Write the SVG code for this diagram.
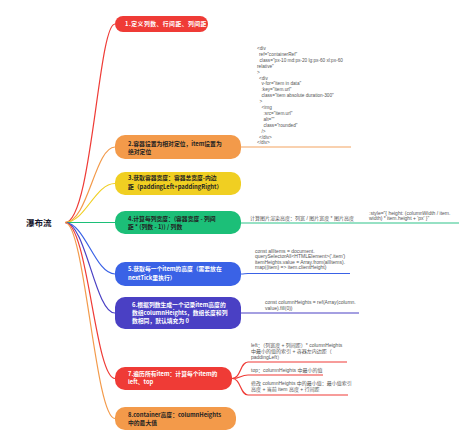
<svg xmlns="http://www.w3.org/2000/svg" width="474" height="447" viewBox="0 0 474 447">
<style>
.n{font-family:"Noto Sans CJK SC","Liberation Sans",sans-serif;font-size:5.8px;font-weight:bold}
.w{fill:#ffffff}
.d{fill:#222222}
.c{fill:none;stroke-width:1.2}
.u{fill:none;stroke-width:1.2}
.code{font-family:"Liberation Sans","Noto Sans CJK SC",sans-serif;font-size:4.7px;fill:#555555}
.lf{font-family:"Liberation Sans","Noto Sans CJK SC",sans-serif;font-size:5px;fill:#555555}
</style>
<rect width="474" height="447" fill="#ffffff"/>
<g id="connectors">
<path class="c" stroke="#ef3b36" d="M65,222.5 C92,222.5 98,24 115,24"/>
<path class="c" stroke="#f39a4a" d="M65,222.5 C88,222.5 95,147 115,147"/>
<path class="c" stroke="#f0cf22" d="M65,222.5 C85,222.5 95,183.5 115,183.5"/>
<path class="c" stroke="#1cbf78" d="M65,222.5 L115,222.5"/>
<path class="c" stroke="#3a62e6" d="M65,222.5 C85,222.5 95,274 115,274"/>
<path class="c" stroke="#4a40c4" d="M65,222.5 C86,222.5 95,313 115,313"/>
<path class="c" stroke="#ef3b36" d="M65,222.5 C88,222.5 95,378.5 115,378.5"/>
<path class="c" stroke="#f39a4a" d="M65,222.5 C85,222.5 95,418.5 115,418.5"/>
<path class="u" stroke="#f3a460" d="M241,147 L351,147"/>
<path class="u" stroke="#2ec48a" d="M241,223 L459,223"/>
<path class="u" stroke="#3a62e6" d="M241,274 C245,274 244,273.5 248,273.5 L350,273.5"/>
<path class="u" stroke="#4a40c4" d="M241,313 L359,313"/>
<path class="u" stroke="#ef3b36" d="M232,378.5 C241,378.5 240,362 248,362 L347,362"/>
<path class="u" stroke="#ef3b36" d="M232,378.5 C241,378.5 240,375 248,375 L323,375"/>
<path class="u" stroke="#ef3b36" d="M232,378.5 C241,378.5 240,395 248,395 L348,395"/>
</g>
<g id="root">
<text x="26" y="225.5" font-family="Noto Sans CJK SC, sans-serif" font-size="8.5" font-weight="bold" fill="#1a1a2e">瀑布流</text>
</g>
<g id="node1">
<rect x="115" y="16" width="93" height="16" rx="8" fill="#ef3b36"/>
<text class="n w" x="125" y="26" letter-spacing="0.5">1.定义列数、行间距、列间距</text>
</g>
<g id="node2">
<rect x="115" y="135" width="126" height="24" rx="10" fill="#f39a4a"/>
<text class="n d" x="128" y="146">2.容器设置为相对定位，item设置为</text>
<text class="n d" x="128" y="154">绝对定位</text>
</g>
<g id="node3">
<rect x="115" y="172" width="126" height="23" rx="10" fill="#f0cf22"/>
<text class="n d" x="128" y="180">3.获取容器宽度：容器总宽度-内边</text>
<text class="n d" x="128" y="189">距（paddingLeft+paddingRight）</text>
</g>
<g id="node4">
<rect x="115" y="211" width="126" height="23" rx="10" fill="#1cbf78"/>
<text class="n d" x="128" y="221">4.计算每列宽度：(容器宽度 - 列间</text>
<text class="n d" x="128" y="229">距 * (列数 - 1)) / 列数</text>
</g>
<g id="node5">
<rect x="115" y="262" width="126" height="24" rx="10" fill="#3a62e6"/>
<text class="n w" x="128" y="271">5.获取每一个item的高度（需要放在</text>
<text class="n w" x="128" y="280">nextTick里执行）</text>
</g>
<g id="node6">
<rect x="115" y="297" width="126" height="32" rx="10" fill="#4a40c4"/>
<text class="n w" x="132" y="307">6.根据列数生成一个记录item高度的</text>
<text class="n w" x="132" y="315">数组columnHeights，数组长度和列</text>
<text class="n w" x="132" y="323">数相同，默认填充为 0</text>
</g>
<g id="node7">
<rect x="115" y="367" width="117" height="23" rx="10" fill="#ef3b36"/>
<text class="n w" x="128" y="376">7.遍历所有item：计算每个item的</text>
<text class="n w" x="128" y="384">left、top</text>
</g>
<g id="node8">
<rect x="115" y="407" width="121" height="23" rx="10" fill="#f39a4a"/>
<text class="n d" x="128" y="417">8.container高度：columnHeights</text>
<text class="n d" x="128" y="425">中的最大值</text>
</g>
<g id="leaf2">
<text class="code" x="257" y="50">&lt;div</text>
<text class="code" x="259" y="55.9">ref="containerRef"</text>
<text class="code" x="259.5" y="61.8">class="px-10 md:px-20 lg:px-60 xl:px-60</text>
<text class="code" x="257" y="67.7">relative"</text>
<text class="code" x="257" y="73.6">&gt;</text>
<text class="code" x="259" y="79.5">&lt;div</text>
<text class="code" x="261.5" y="85.4">v-for="item in data"</text>
<text class="code" x="261.5" y="91.3">:key="item.url"</text>
<text class="code" x="261.5" y="97.2">class="item absolute duration-300"</text>
<text class="code" x="259.5" y="103.1">&gt;</text>
<text class="code" x="261.5" y="109">&lt;img</text>
<text class="code" x="263.5" y="114.9">:src="item.url"</text>
<text class="code" x="263.5" y="120.8">alt=""</text>
<text class="code" x="263.5" y="126.7">class="rounded"</text>
<text class="code" x="261.5" y="132.6">/&gt;</text>
<text class="code" x="259" y="138.5">&lt;/div&gt;</text>
<text class="code" x="257" y="144.4">&lt;/div&gt;</text>
</g>
<g id="leaf4">
<text class="lf" x="250" y="220">计算图片渲染高度：列宽 / 图片宽度 * 图片高度</text>
</g>
<g id="leaf4b">
<text class="lf" x="369" y="214.5">:style="{ height: (columnWidth / item.</text>
<text class="lf" x="369" y="220">width) * item.height + 'px' }"</text>
</g>
<g id="leaf5">
<text class="lf" x="255" y="252.5">const allItems = document.</text>
<text class="lf" x="255" y="258">querySelectorAll&lt;HTMLElement&gt;('.item')</text>
<text class="lf" x="255" y="263.5">itemHeights.value = Array.from(allItems).</text>
<text class="lf" x="255" y="269">map((item) =&gt; item.clientHeight)</text>
</g>
<g id="leaf6">
<text class="lf" x="265" y="304">const columnHeights = ref(Array(column.</text>
<text class="lf" x="265" y="309.5">value).fill(0))</text>
</g>
<g id="leaf7a">
<text class="lf" x="251" y="346.5">left：（列宽度 + 列间距）* columnHeights</text>
<text class="lf" x="251" y="352.5">中最小的值的索引 + 容器左内边距（</text>
<text class="lf" x="251" y="358.5">paddingLeft）</text>
</g>
<g id="leaf7b">
<text class="lf" x="251" y="371.5">top：columnHeights 中最小的值</text>
</g>
<g id="leaf7c">
<text class="lf" x="251" y="385">修改 columnHeights 中的最小值：最小值索引</text>
<text class="lf" x="251" y="390.5">高度 + 当前 item 高度 + 行间距</text>
</g>
</svg>
